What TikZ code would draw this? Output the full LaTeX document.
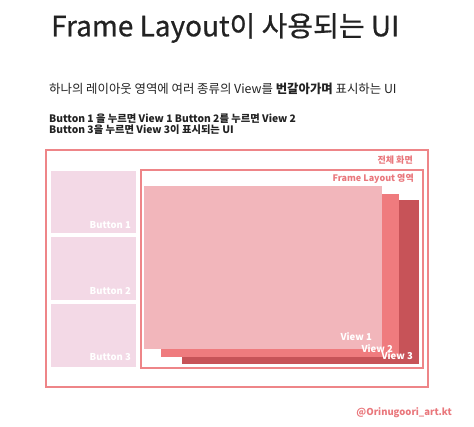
\documentclass[tikz,border=0pt]{standalone}
\usepackage{fontspec}
\setmainfont{Noto Sans CJK KR}
\newfontfamily\titlefont[FakeBold=0.6]{Noto Sans CJK KR}
\definecolor{framered}{HTML}{EE8588}
\definecolor{btnpink}{HTML}{F3D9E6}
\definecolor{viewone}{HTML}{F2B6BB}
\definecolor{viewtwo}{HTML}{EF7B7E}
\definecolor{viewthree}{HTML}{C75358}
\definecolor{labelred}{HTML}{E9777C}
\definecolor{inkgrey}{HTML}{222222}
\tikzset{
  box/.style={draw=framered, line width=2pt},
  btnbox/.style={fill=btnpink},
  btnlabel/.style={anchor=east, inner sep=0pt, text=white, font=\bfseries\fontsize{9.5}{11}\selectfont},
  areatext/.style={anchor=east, inner sep=0pt, text=labelred, font=\bfseries\fontsize{9}{11}\selectfont}
}

\begin{document}
\begin{tikzpicture}[x=1pt, y=-1pt]
  \useasboundingbox (0,0) rectangle (474,427);

  % titles
  \node (title) [anchor=west, inner sep=0pt, text=inkgrey, font=\titlefont\fontsize{28}{32}\selectfont] at (51,28) {Frame Layout이 사용되는 UI};
  \node (lead) [anchor=west, inner sep=0pt, text=inkgrey, font=\fontsize{12.4}{15}\selectfont] at (49,89) {하나의 레이아웃 영역에 여러 종류의 View를 \textbf{번갈아가며} 표시하는 UI};
  \node (note) [anchor=north west, inner sep=0pt, align=left, text=inkgrey, font=\bfseries\fontsize{10.3}{10.5}\selectfont] at (49,114) {Button 1 을 누르면 View 1 Button 2를 누르면 View 2\\Button 3을 누르면 View 3이 표시되는 UI};

  % whole screen and frame layout area
  \draw [box] (46,150) rectangle (428,387);
  \node (screen) [areatext] at (413,160) {전체 화면};
  \draw [box] (141,170) rectangle (423,368);
  \node (frame) [areatext] at (414,179) {Frame Layout 영역};

  % buttons
  \fill [btnbox] (51,171) rectangle (136,233);
  \fill [btnbox] (51,237) rectangle (136,300);
  \fill [btnbox] (51,304) rectangle (136,367);
  \node (b1) [btnlabel] at (131,225) {Button 1};
  \node (b2) [btnlabel] at (131,291) {Button 2};
  \node (b3) [btnlabel] at (131,357) {Button 3};

  % stacked views
  \fill [viewthree] (182,200) rectangle (419,364);
  \fill [viewtwo] (161,194) rectangle (399,357);
  \fill [viewone] (144,186) rectangle (382,349);
  \node (v3) [btnlabel] at (413,356) {View 3};
  \node (v2) [btnlabel] at (393,349) {View 2};
  \node (v1) [btnlabel] at (372,337) {View 1};

  \node (credit) [areatext, font=\bfseries\fontsize{9.5}{11}\selectfont] at (452,413) {@Orinugoori\_art.kt};
\end{tikzpicture}
\end{document}
